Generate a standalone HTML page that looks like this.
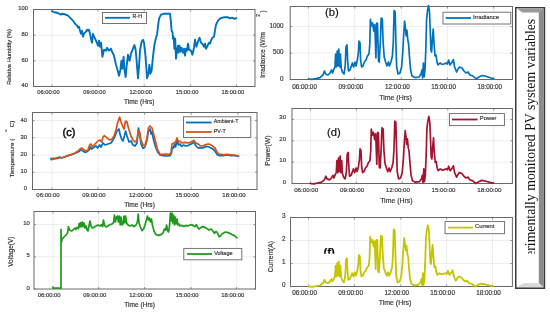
<!DOCTYPE html>
<html><head><meta charset="utf-8"><title>PV system variables</title>
<style>html,body{margin:0;padding:0;background:#fff}svg{display:block}</style>
</head><body>
<svg width="550" height="312" viewBox="0 0 550 312" font-family="Liberation Sans, sans-serif">
<rect width="550" height="312" fill="#fff"/>
<rect x="33.5" y="9.5" width="221.5" height="77.0" fill="#fff"/>
<line x1="52.0" y1="9.5" x2="52.0" y2="86.5" stroke="#e6e6e6" stroke-width="0.7"/>
<line x1="98.0" y1="9.5" x2="98.0" y2="86.5" stroke="#e6e6e6" stroke-width="0.7"/>
<line x1="144.2" y1="9.5" x2="144.2" y2="86.5" stroke="#e6e6e6" stroke-width="0.7"/>
<line x1="190.6" y1="9.5" x2="190.6" y2="86.5" stroke="#e6e6e6" stroke-width="0.7"/>
<line x1="236.4" y1="9.5" x2="236.4" y2="86.5" stroke="#e6e6e6" stroke-width="0.7"/>
<line x1="33.5" y1="35.2" x2="255" y2="35.2" stroke="#e6e6e6" stroke-width="0.7"/>
<line x1="33.5" y1="60.8" x2="255" y2="60.8" stroke="#e6e6e6" stroke-width="0.7"/>
<rect x="33.5" y="9.5" width="221.5" height="77.0" fill="none" stroke="#686868" stroke-width="1"/>
<line x1="52.0" y1="86.5" x2="52.0" y2="84.5" stroke="#686868" stroke-width="0.7"/>
<line x1="52.0" y1="9.5" x2="52.0" y2="11.5" stroke="#686868" stroke-width="0.7"/>
<line x1="98.0" y1="86.5" x2="98.0" y2="84.5" stroke="#686868" stroke-width="0.7"/>
<line x1="98.0" y1="9.5" x2="98.0" y2="11.5" stroke="#686868" stroke-width="0.7"/>
<line x1="144.2" y1="86.5" x2="144.2" y2="84.5" stroke="#686868" stroke-width="0.7"/>
<line x1="144.2" y1="9.5" x2="144.2" y2="11.5" stroke="#686868" stroke-width="0.7"/>
<line x1="190.6" y1="86.5" x2="190.6" y2="84.5" stroke="#686868" stroke-width="0.7"/>
<line x1="190.6" y1="9.5" x2="190.6" y2="11.5" stroke="#686868" stroke-width="0.7"/>
<line x1="236.4" y1="86.5" x2="236.4" y2="84.5" stroke="#686868" stroke-width="0.7"/>
<line x1="236.4" y1="9.5" x2="236.4" y2="11.5" stroke="#686868" stroke-width="0.7"/>
<line x1="33.5" y1="9.5" x2="35.5" y2="9.5" stroke="#686868" stroke-width="0.7"/>
<line x1="255" y1="9.5" x2="253" y2="9.5" stroke="#686868" stroke-width="0.7"/>
<line x1="33.5" y1="35.2" x2="35.5" y2="35.2" stroke="#686868" stroke-width="0.7"/>
<line x1="255" y1="35.2" x2="253" y2="35.2" stroke="#686868" stroke-width="0.7"/>
<line x1="33.5" y1="60.8" x2="35.5" y2="60.8" stroke="#686868" stroke-width="0.7"/>
<line x1="255" y1="60.8" x2="253" y2="60.8" stroke="#686868" stroke-width="0.7"/>
<line x1="33.5" y1="86.5" x2="35.5" y2="86.5" stroke="#686868" stroke-width="0.7"/>
<line x1="255" y1="86.5" x2="253" y2="86.5" stroke="#686868" stroke-width="0.7"/>
<polyline points="52.0,11.2 54.0,12.2 57.0,12.7 59.0,13.7 61.0,14.7 62.0,13.7 65.0,14.3 68.0,15.7 71.0,18.7 73.0,20.7 75.0,23.7 77.0,25.7 78.0,27.7 79.0,26.7 80.0,30.7 81.0,33.7 82.0,30.7 83.0,36.7 84.0,33.7 86.0,31.7 87.0,29.7 88.0,30.7 89.0,29.7 90.0,33.7 91.0,38.7 92.0,42.7 93.0,33.7 94.0,36.7 96.0,40.7 98.0,45.7 99.0,40.7 100.0,46.7 101.0,42.7 102.4,56.7 104.0,49.7 106.0,50.7 107.0,47.7 109.0,50.7 111.0,48.7 112.0,51.7 114.0,55.7 116.0,64.7 118.0,71.7 119.0,75.7 120.4,69.7 121.4,60.7 122.4,68.7 123.6,56.7 124.6,70.7 125.6,77.1 126.6,66.7 128.0,54.7 129.6,60.7 131.0,53.7 133.0,48.7 134.4,45.1 135.6,49.7 136.6,60.7 138.0,78.3 139.0,66.7 140.0,50.7 141.6,41.7 143.0,39.7 144.0,42.7 145.6,56.7 147.0,78.3 148.4,73.7 149.4,64.7 150.4,73.7 151.6,70.7 153.0,56.7 154.4,44.7 156.0,37.7 157.0,34.7 159.0,18.7 161.0,14.7 164.0,13.7 170.0,13.7 171.0,22.7 171.6,30.7 172.6,32.7 173.0,38.7 173.6,36.7 174.4,48.7 175.2,38.7 176.0,58.7 177.0,50.7 178.0,45.7 178.6,52.7 179.6,45.7 180.6,51.7 181.6,47.7 183.0,52.7 184.0,48.7 185.0,55.7 186.0,48.7 187.0,50.7 188.0,43.7 189.0,49.7 191.0,50.7 192.4,54.7 194.0,47.7 195.0,39.7 196.4,46.7 198.0,41.7 199.6,37.7 201.0,42.7 202.4,43.7 204.0,46.7 205.0,43.7 206.0,48.7 207.6,45.7 209.0,42.7 210.0,43.7 211.0,40.7 212.4,37.7 214.0,36.7 215.0,30.7 216.0,24.7 218.0,20.7 220.0,18.7 222.0,17.7 225.0,17.1 228.0,17.3 230.0,18.3 232.0,17.7 234.0,18.7 236.4,18.3" fill="none" stroke="#0072BD" stroke-width="1.9" stroke-linejoin="round" stroke-linecap="round"/>
<rect x="102.5" y="12.5" width="44.0" height="11.0" fill="#fff" stroke="#666" stroke-width="0.9"/>
<line x1="105" y1="17.8" x2="130" y2="17.8" stroke="#0072BD" stroke-width="1.8"/>
<text x="132.5" y="18.3" font-size="5.35" text-anchor="start" fill="#383838" stroke="#383838" stroke-width="0.18" >R-H</text>
<text x="28.0" y="10.4" font-size="5.8" text-anchor="end" fill="#383838" stroke="#383838" stroke-width="0.18" >100</text>
<text x="28.0" y="36.1" font-size="5.8" text-anchor="end" fill="#383838" stroke="#383838" stroke-width="0.18" >80</text>
<text x="28.0" y="61.7" font-size="5.8" text-anchor="end" fill="#383838" stroke="#383838" stroke-width="0.18" >60</text>
<text x="28.0" y="87.4" font-size="5.8" text-anchor="end" fill="#383838" stroke="#383838" stroke-width="0.18" >40</text>
<text x="48.5" y="93.8" font-size="5.8" text-anchor="middle" fill="#383838" stroke="#383838" stroke-width="0.18" >06:00:00</text>
<text x="94.5" y="93.8" font-size="5.8" text-anchor="middle" fill="#383838" stroke="#383838" stroke-width="0.18" >09:00:00</text>
<text x="140.7" y="93.8" font-size="5.8" text-anchor="middle" fill="#383838" stroke="#383838" stroke-width="0.18" >12:00:00</text>
<text x="187.1" y="93.8" font-size="5.8" text-anchor="middle" fill="#383838" stroke="#383838" stroke-width="0.18" >15:00:00</text>
<text x="232.9" y="93.8" font-size="5.8" text-anchor="middle" fill="#383838" stroke="#383838" stroke-width="0.18" >18:00:00</text>
<text x="139.2" y="103.5" font-size="6.5" text-anchor="middle" fill="#383838" stroke="#383838" stroke-width="0.18" >Time (Hrs)</text>
<text transform="translate(11.0,57.0) rotate(-90)" font-size="5.8" text-anchor="middle" fill="#383838" stroke="#383838" stroke-width="0.18">Relative Humidity (%)</text>
<rect x="290.2" y="6.5" width="222.3" height="73.0" fill="#fff"/>
<line x1="308.4" y1="6.5" x2="308.4" y2="79.5" stroke="#e6e6e6" stroke-width="0.7"/>
<line x1="354.7" y1="6.5" x2="354.7" y2="79.5" stroke="#e6e6e6" stroke-width="0.7"/>
<line x1="401.2" y1="6.5" x2="401.2" y2="79.5" stroke="#e6e6e6" stroke-width="0.7"/>
<line x1="447.4" y1="6.5" x2="447.4" y2="79.5" stroke="#e6e6e6" stroke-width="0.7"/>
<line x1="493.6" y1="6.5" x2="493.6" y2="79.5" stroke="#e6e6e6" stroke-width="0.7"/>
<line x1="290.2" y1="26.6" x2="512.5" y2="26.6" stroke="#e6e6e6" stroke-width="0.7"/>
<line x1="290.2" y1="53.1" x2="512.5" y2="53.1" stroke="#e6e6e6" stroke-width="0.7"/>
<rect x="290.2" y="6.5" width="222.3" height="73.0" fill="none" stroke="#686868" stroke-width="1"/>
<line x1="308.4" y1="79.5" x2="308.4" y2="77.5" stroke="#686868" stroke-width="0.7"/>
<line x1="308.4" y1="6.5" x2="308.4" y2="8.5" stroke="#686868" stroke-width="0.7"/>
<line x1="354.7" y1="79.5" x2="354.7" y2="77.5" stroke="#686868" stroke-width="0.7"/>
<line x1="354.7" y1="6.5" x2="354.7" y2="8.5" stroke="#686868" stroke-width="0.7"/>
<line x1="401.2" y1="79.5" x2="401.2" y2="77.5" stroke="#686868" stroke-width="0.7"/>
<line x1="401.2" y1="6.5" x2="401.2" y2="8.5" stroke="#686868" stroke-width="0.7"/>
<line x1="447.4" y1="79.5" x2="447.4" y2="77.5" stroke="#686868" stroke-width="0.7"/>
<line x1="447.4" y1="6.5" x2="447.4" y2="8.5" stroke="#686868" stroke-width="0.7"/>
<line x1="493.6" y1="79.5" x2="493.6" y2="77.5" stroke="#686868" stroke-width="0.7"/>
<line x1="493.6" y1="6.5" x2="493.6" y2="8.5" stroke="#686868" stroke-width="0.7"/>
<line x1="290.2" y1="26.6" x2="292.2" y2="26.6" stroke="#686868" stroke-width="0.7"/>
<line x1="512.5" y1="26.6" x2="510.5" y2="26.6" stroke="#686868" stroke-width="0.7"/>
<line x1="290.2" y1="53.1" x2="292.2" y2="53.1" stroke="#686868" stroke-width="0.7"/>
<line x1="512.5" y1="53.1" x2="510.5" y2="53.1" stroke="#686868" stroke-width="0.7"/>
<line x1="290.2" y1="79.5" x2="292.2" y2="79.5" stroke="#686868" stroke-width="0.7"/>
<line x1="512.5" y1="79.5" x2="510.5" y2="79.5" stroke="#686868" stroke-width="0.7"/>
<polyline points="308.4,79.0 312.0,79.4 316.0,78.6 320.0,77.6 323.0,75.0 324.4,71.0 325.6,74.0 328.0,75.0 330.0,73.0 331.6,70.0 332.6,73.0 334.0,69.0 335.0,67.0 335.6,54.0 336.4,67.0 337.2,51.0 338.0,66.0 338.8,49.0 339.6,67.0 340.4,54.0 341.2,68.0 342.4,72.0 344.0,74.0 345.2,66.0 346.0,47.0 347.0,45.0 347.6,60.0 348.4,71.0 350.0,70.0 351.0,67.0 352.4,63.0 353.6,67.0 355.0,62.0 356.0,66.0 357.4,60.0 358.4,52.0 359.0,41.0 360.0,43.0 360.6,60.0 361.6,67.0 363.0,66.0 364.4,62.0 366.0,60.0 367.4,56.0 369.0,54.0 369.8,44.0 370.4,19.4 371.5,26.0 372.6,23.0 373.8,31.0 374.8,24.5 375.9,58.0 376.7,23.0 377.5,23.5 378.5,61.0 379.3,62.0 380.4,40.0 381.2,18.0 382.3,19.0 383.1,42.0 384.2,57.0 385.6,62.0 387.0,66.0 388.4,62.0 389.4,66.0 391.0,62.0 392.4,56.0 393.3,42.0 394.1,10.5 395.1,11.7 395.9,42.0 396.6,66.0 398.0,74.0 400.0,73.0 401.6,67.0 402.8,52.0 403.6,36.0 404.6,21.0 405.6,30.0 406.2,36.0 406.9,30.0 407.8,40.0 408.6,44.0 409.4,56.0 410.6,70.0 412.0,76.0 415.0,77.6 419.0,77.0 421.0,74.0 422.0,70.0 422.6,78.0 423.4,63.0 424.2,77.0 425.0,70.0 425.8,50.0 426.6,19.4 427.4,11.7 428.5,5.5 429.5,12.0 430.2,30.0 430.9,50.0 431.6,52.0 432.4,39.0 433.2,29.0 434.0,43.0 435.0,56.0 436.0,55.0 437.0,62.0 438.0,65.0 440.0,63.0 442.0,64.4 444.0,64.0 446.0,63.0 447.4,64.0 448.6,60.0 450.0,65.0 451.6,63.0 453.4,59.6 454.6,67.0 456.6,72.0 458.0,69.0 459.4,67.0 462.0,68.0 464.0,71.0 466.0,73.0 468.0,72.0 470.0,75.0 473.0,76.0 476.0,79.0 479.0,77.0 482.0,75.6 485.0,76.0 488.0,77.0 491.0,78.0 493.6,78.6" fill="none" stroke="#0072BD" stroke-width="1.7" stroke-linejoin="round" stroke-linecap="round"/>
<rect x="443" y="12.2" width="67.8" height="11.8" fill="#fff" stroke="#666" stroke-width="0.9"/>
<line x1="445.6" y1="18" x2="471" y2="18" stroke="#0072BD" stroke-width="1.8"/>
<text x="473.0" y="19.1" font-size="5.85" text-anchor="start" fill="#383838" stroke="#383838" stroke-width="0.18" >Irradiance</text>
<text x="283.4" y="27.7" font-size="6.3" text-anchor="end" fill="#383838" stroke="#383838" stroke-width="0.18" >1000</text>
<text x="283.4" y="54.2" font-size="6.3" text-anchor="end" fill="#383838" stroke="#383838" stroke-width="0.18" >500</text>
<text x="283.4" y="80.6" font-size="6.3" text-anchor="end" fill="#383838" stroke="#383838" stroke-width="0.18" >0</text>
<text x="304.6" y="89.3" font-size="6.35" text-anchor="middle" fill="#383838" stroke="#383838" stroke-width="0.18" >06:00:00</text>
<text x="350.9" y="89.3" font-size="6.35" text-anchor="middle" fill="#383838" stroke="#383838" stroke-width="0.18" >09:00:00</text>
<text x="397.4" y="89.3" font-size="6.35" text-anchor="middle" fill="#383838" stroke="#383838" stroke-width="0.18" >12:00:00</text>
<text x="443.6" y="89.3" font-size="6.35" text-anchor="middle" fill="#383838" stroke="#383838" stroke-width="0.18" >15:00:00</text>
<text x="489.8" y="89.3" font-size="6.35" text-anchor="middle" fill="#383838" stroke="#383838" stroke-width="0.18" >18:00:00</text>
<text x="395.5" y="99.5" font-size="6.95" text-anchor="middle" fill="#383838" stroke="#383838" stroke-width="0.18" >Time (Hrs)</text>
<text transform="translate(264.6,55.0) rotate(-90)" font-size="6.4" text-anchor="middle" fill="#383838" stroke="#383838" stroke-width="0.18">Irradiance (W/m</text>
<text transform="translate(260.2,15.3) rotate(-90)" font-size="5" text-anchor="middle" fill="#383838" stroke="#383838" stroke-width="0.18">2</text>
<text transform="translate(264.8,11.5) rotate(-90)" font-size="6.6" text-anchor="middle" fill="#383838" stroke="#383838" stroke-width="0.18">)</text>
<text x="325.0" y="16.3" font-size="11.3" text-anchor="start" fill="#111" stroke="#111" stroke-width="0.18" >(b)</text>
<rect x="32.5" y="112.5" width="224.5" height="77.0" fill="#fff"/>
<line x1="52.0" y1="112.5" x2="52.0" y2="189.5" stroke="#e6e6e6" stroke-width="0.7"/>
<line x1="98.0" y1="112.5" x2="98.0" y2="189.5" stroke="#e6e6e6" stroke-width="0.7"/>
<line x1="144.6" y1="112.5" x2="144.6" y2="189.5" stroke="#e6e6e6" stroke-width="0.7"/>
<line x1="191.2" y1="112.5" x2="191.2" y2="189.5" stroke="#e6e6e6" stroke-width="0.7"/>
<line x1="238.0" y1="112.5" x2="238.0" y2="189.5" stroke="#e6e6e6" stroke-width="0.7"/>
<line x1="32.5" y1="120.6" x2="257" y2="120.6" stroke="#e6e6e6" stroke-width="0.7"/>
<line x1="32.5" y1="137.8" x2="257" y2="137.8" stroke="#e6e6e6" stroke-width="0.7"/>
<line x1="32.5" y1="155.1" x2="257" y2="155.1" stroke="#e6e6e6" stroke-width="0.7"/>
<line x1="32.5" y1="172.3" x2="257" y2="172.3" stroke="#e6e6e6" stroke-width="0.7"/>
<rect x="32.5" y="112.5" width="224.5" height="77.0" fill="none" stroke="#686868" stroke-width="1"/>
<line x1="52.0" y1="189.5" x2="52.0" y2="187.5" stroke="#686868" stroke-width="0.7"/>
<line x1="52.0" y1="112.5" x2="52.0" y2="114.5" stroke="#686868" stroke-width="0.7"/>
<line x1="98.0" y1="189.5" x2="98.0" y2="187.5" stroke="#686868" stroke-width="0.7"/>
<line x1="98.0" y1="112.5" x2="98.0" y2="114.5" stroke="#686868" stroke-width="0.7"/>
<line x1="144.6" y1="189.5" x2="144.6" y2="187.5" stroke="#686868" stroke-width="0.7"/>
<line x1="144.6" y1="112.5" x2="144.6" y2="114.5" stroke="#686868" stroke-width="0.7"/>
<line x1="191.2" y1="189.5" x2="191.2" y2="187.5" stroke="#686868" stroke-width="0.7"/>
<line x1="191.2" y1="112.5" x2="191.2" y2="114.5" stroke="#686868" stroke-width="0.7"/>
<line x1="238.0" y1="189.5" x2="238.0" y2="187.5" stroke="#686868" stroke-width="0.7"/>
<line x1="238.0" y1="112.5" x2="238.0" y2="114.5" stroke="#686868" stroke-width="0.7"/>
<line x1="32.5" y1="120.6" x2="34.5" y2="120.6" stroke="#686868" stroke-width="0.7"/>
<line x1="257" y1="120.6" x2="255" y2="120.6" stroke="#686868" stroke-width="0.7"/>
<line x1="32.5" y1="137.8" x2="34.5" y2="137.8" stroke="#686868" stroke-width="0.7"/>
<line x1="257" y1="137.8" x2="255" y2="137.8" stroke="#686868" stroke-width="0.7"/>
<line x1="32.5" y1="155.1" x2="34.5" y2="155.1" stroke="#686868" stroke-width="0.7"/>
<line x1="257" y1="155.1" x2="255" y2="155.1" stroke="#686868" stroke-width="0.7"/>
<line x1="32.5" y1="172.3" x2="34.5" y2="172.3" stroke="#686868" stroke-width="0.7"/>
<line x1="257" y1="172.3" x2="255" y2="172.3" stroke="#686868" stroke-width="0.7"/>
<line x1="32.5" y1="189.5" x2="34.5" y2="189.5" stroke="#686868" stroke-width="0.7"/>
<line x1="257" y1="189.5" x2="255" y2="189.5" stroke="#686868" stroke-width="0.7"/>
<polyline points="51.0,158.6 56.0,158.0 60.0,157.2 62.0,158.0 68.0,155.6 72.0,154.4 76.0,153.0 79.0,151.6 81.0,149.6 83.0,151.0 85.0,152.4 87.0,151.6 89.0,150.0 90.4,147.0 91.6,149.0 93.6,147.6 96.0,146.0 97.6,148.0 99.6,145.0 101.0,147.0 103.0,143.0 105.0,145.0 108.0,144.0 111.0,143.0 113.0,140.0 115.0,136.0 117.0,131.0 119.0,129.0 120.0,134.0 121.6,139.0 123.0,141.0 124.4,136.0 125.6,131.0 127.0,136.0 129.0,142.0 131.0,141.0 133.0,145.0 135.0,146.0 137.0,143.0 138.4,128.0 139.6,134.0 141.0,144.0 143.0,148.4 145.0,147.0 147.0,140.0 148.4,131.0 150.0,129.0 151.0,134.0 152.0,132.0 153.6,140.0 155.6,147.0 157.6,152.0 160.0,155.0 163.0,155.6 167.0,156.0 170.0,155.6 171.4,153.0 172.4,147.0 173.6,148.0 174.6,144.0 175.6,147.0 177.0,140.0 178.4,145.0 180.0,144.0 181.6,146.4 183.6,145.0 185.6,146.0 188.0,145.6 190.0,144.4 192.0,143.6 194.0,142.0 196.0,146.0 198.0,148.0 200.0,147.6 203.0,148.0 206.0,146.4 209.0,147.0 212.0,148.4 215.0,151.0 217.0,154.4 219.0,155.6 223.0,155.6 227.0,155.0 231.0,155.6 235.0,155.6 238.4,156.4" fill="none" stroke="#0072BD" stroke-width="1.7" stroke-linejoin="round" stroke-linecap="round"/>
<polyline points="51.0,159.6 56.0,158.6 60.0,158.0 64.0,157.0 68.0,155.6 72.0,154.4 75.0,153.0 78.0,151.0 80.0,149.0 82.0,148.0 84.0,150.0 86.0,151.0 88.0,150.0 89.6,145.0 91.0,144.0 92.4,147.0 95.0,144.0 98.0,141.0 100.0,140.0 101.6,142.0 103.0,137.0 104.4,135.6 107.0,138.0 110.0,140.0 112.0,139.0 114.0,136.0 116.0,130.0 117.6,123.0 119.6,117.0 121.0,122.0 123.0,127.0 124.0,129.0 125.6,121.0 127.0,122.0 128.4,128.0 131.0,136.0 133.0,140.0 135.0,142.0 137.0,140.0 138.4,130.0 139.6,132.0 141.0,140.0 143.0,145.0 145.0,146.0 147.0,138.0 148.4,128.0 150.0,126.0 152.0,128.0 153.6,134.0 155.6,142.0 157.6,150.0 160.0,154.0 163.0,154.4 166.0,154.0 169.0,154.4 171.0,153.0 172.0,144.0 174.0,143.0 175.6,142.0 177.0,138.0 178.4,142.0 180.0,141.0 182.0,143.0 185.0,142.4 188.0,143.0 191.0,142.0 193.6,140.4 196.0,143.0 198.0,144.0 200.0,145.6 203.0,146.0 206.0,144.4 209.0,144.0 212.0,145.6 215.0,148.0 217.0,152.0 219.0,154.0 223.0,154.8 227.0,154.4 231.0,154.8 235.0,155.2 238.4,156.0" fill="none" stroke="#D95319" stroke-width="1.7" stroke-linejoin="round" stroke-linecap="round"/>
<rect x="183.5" y="116.8" width="67.3" height="20.7" fill="#fff" stroke="#666" stroke-width="0.9"/>
<line x1="186" y1="122.5" x2="211.7" y2="122.5" stroke="#0072BD" stroke-width="1.8"/>
<text x="213.8" y="123.0" font-size="5.35" text-anchor="start" fill="#383838" stroke="#383838" stroke-width="0.18" >Ambient-T</text>
<line x1="186" y1="132" x2="211.7" y2="132" stroke="#D95319" stroke-width="1.8"/>
<text x="213.8" y="132.5" font-size="5.35" text-anchor="start" fill="#383838" stroke="#383838" stroke-width="0.18" >PV-T</text>
<text x="27.0" y="121.5" font-size="5.8" text-anchor="end" fill="#383838" stroke="#383838" stroke-width="0.18" >40</text>
<text x="27.0" y="138.7" font-size="5.8" text-anchor="end" fill="#383838" stroke="#383838" stroke-width="0.18" >30</text>
<text x="27.0" y="156.0" font-size="5.8" text-anchor="end" fill="#383838" stroke="#383838" stroke-width="0.18" >20</text>
<text x="27.0" y="173.2" font-size="5.8" text-anchor="end" fill="#383838" stroke="#383838" stroke-width="0.18" >10</text>
<text x="27.0" y="190.4" font-size="5.8" text-anchor="end" fill="#383838" stroke="#383838" stroke-width="0.18" >0</text>
<text x="48.0" y="197.1" font-size="6.0" text-anchor="middle" fill="#383838" stroke="#383838" stroke-width="0.18" >06:00:00</text>
<text x="94.0" y="197.1" font-size="6.0" text-anchor="middle" fill="#383838" stroke="#383838" stroke-width="0.18" >09:00:00</text>
<text x="140.6" y="197.1" font-size="6.0" text-anchor="middle" fill="#383838" stroke="#383838" stroke-width="0.18" >12:00:00</text>
<text x="187.2" y="197.1" font-size="6.0" text-anchor="middle" fill="#383838" stroke="#383838" stroke-width="0.18" >15:00:00</text>
<text x="234.0" y="197.1" font-size="6.0" text-anchor="middle" fill="#383838" stroke="#383838" stroke-width="0.18" >18:00:00</text>
<text x="139.5" y="206.9" font-size="6.55" text-anchor="middle" fill="#383838" stroke="#383838" stroke-width="0.18" >Time (Hrs)</text>
<text transform="translate(13.6,177.3) rotate(-90)" font-size="6.2" text-anchor="start" fill="#383838" stroke="#383838" stroke-width="0.18">Temperature (</text>
<text transform="translate(8.9,130.5) rotate(-90)" font-size="6.2" text-anchor="middle" fill="#383838" stroke="#383838" stroke-width="0.18">°</text>
<text transform="translate(13.6,124.0) rotate(-90)" font-size="6.2" text-anchor="middle" fill="#383838" stroke="#383838" stroke-width="0.18">C)</text>
<text x="62.6" y="135.6" font-size="11" text-anchor="start" fill="#111" stroke="#111" stroke-width="0.18" style="stroke-width:0.5">(c)</text>
<rect x="292" y="108.5" width="220.4" height="75.0" fill="#fff"/>
<line x1="310.5" y1="108.5" x2="310.5" y2="183.5" stroke="#e6e6e6" stroke-width="0.7"/>
<line x1="356.4" y1="108.5" x2="356.4" y2="183.5" stroke="#e6e6e6" stroke-width="0.7"/>
<line x1="402.2" y1="108.5" x2="402.2" y2="183.5" stroke="#e6e6e6" stroke-width="0.7"/>
<line x1="447.8" y1="108.5" x2="447.8" y2="183.5" stroke="#e6e6e6" stroke-width="0.7"/>
<line x1="493.7" y1="108.5" x2="493.7" y2="183.5" stroke="#e6e6e6" stroke-width="0.7"/>
<line x1="292" y1="119.4" x2="512.4" y2="119.4" stroke="#e6e6e6" stroke-width="0.7"/>
<line x1="292" y1="140.8" x2="512.4" y2="140.8" stroke="#e6e6e6" stroke-width="0.7"/>
<line x1="292" y1="162.1" x2="512.4" y2="162.1" stroke="#e6e6e6" stroke-width="0.7"/>
<rect x="292" y="108.5" width="220.4" height="75.0" fill="none" stroke="#686868" stroke-width="1"/>
<line x1="310.5" y1="183.5" x2="310.5" y2="181.5" stroke="#686868" stroke-width="0.7"/>
<line x1="310.5" y1="108.5" x2="310.5" y2="110.5" stroke="#686868" stroke-width="0.7"/>
<line x1="356.4" y1="183.5" x2="356.4" y2="181.5" stroke="#686868" stroke-width="0.7"/>
<line x1="356.4" y1="108.5" x2="356.4" y2="110.5" stroke="#686868" stroke-width="0.7"/>
<line x1="402.2" y1="183.5" x2="402.2" y2="181.5" stroke="#686868" stroke-width="0.7"/>
<line x1="402.2" y1="108.5" x2="402.2" y2="110.5" stroke="#686868" stroke-width="0.7"/>
<line x1="447.8" y1="183.5" x2="447.8" y2="181.5" stroke="#686868" stroke-width="0.7"/>
<line x1="447.8" y1="108.5" x2="447.8" y2="110.5" stroke="#686868" stroke-width="0.7"/>
<line x1="493.7" y1="183.5" x2="493.7" y2="181.5" stroke="#686868" stroke-width="0.7"/>
<line x1="493.7" y1="108.5" x2="493.7" y2="110.5" stroke="#686868" stroke-width="0.7"/>
<line x1="292" y1="119.4" x2="294" y2="119.4" stroke="#686868" stroke-width="0.7"/>
<line x1="512.4" y1="119.4" x2="510.4" y2="119.4" stroke="#686868" stroke-width="0.7"/>
<line x1="292" y1="140.8" x2="294" y2="140.8" stroke="#686868" stroke-width="0.7"/>
<line x1="512.4" y1="140.8" x2="510.4" y2="140.8" stroke="#686868" stroke-width="0.7"/>
<line x1="292" y1="162.1" x2="294" y2="162.1" stroke="#686868" stroke-width="0.7"/>
<line x1="512.4" y1="162.1" x2="510.4" y2="162.1" stroke="#686868" stroke-width="0.7"/>
<line x1="292" y1="183.5" x2="294" y2="183.5" stroke="#686868" stroke-width="0.7"/>
<line x1="512.4" y1="183.5" x2="510.4" y2="183.5" stroke="#686868" stroke-width="0.7"/>
<polyline points="310.0,183.5 313.6,183.9 317.5,183.1 321.5,182.2 324.4,179.9 325.8,176.2 327.0,178.9 329.4,179.9 331.4,178.0 332.9,175.3 333.9,178.0 335.3,174.4 336.3,172.6 336.9,160.7 337.7,172.6 338.5,158.0 339.3,171.6 340.1,156.1 340.9,172.6 341.7,160.7 342.4,173.5 343.6,177.1 345.2,178.9 346.4,171.6 347.2,154.3 348.2,152.5 348.8,166.2 349.6,176.2 351.2,175.3 352.1,172.6 353.5,168.9 354.7,172.6 356.1,168.0 357.1,171.6 358.5,166.2 359.5,158.9 360.1,148.8 361.0,150.7 361.6,166.2 362.6,172.6 364.0,171.6 365.4,168.0 367.0,166.2 368.4,162.5 369.9,160.7 370.7,151.6 371.3,129.1 372.4,135.1 373.5,132.4 374.7,139.7 375.7,133.8 376.8,164.3 377.6,132.4 378.4,132.9 379.3,167.1 380.1,168.0 381.2,147.9 382.0,127.8 383.1,128.8 383.9,149.7 385.0,163.4 386.4,168.0 387.8,171.6 389.1,168.0 390.1,171.6 391.7,168.0 393.1,162.5 394.0,149.7 394.8,121.0 395.8,122.1 396.6,149.7 397.2,171.6 398.6,178.9 400.6,178.0 402.2,172.6 403.4,158.9 404.2,144.3 405.2,130.6 406.2,138.8 406.7,144.3 407.4,138.8 408.3,147.9 409.1,151.6 409.9,162.5 411.1,175.3 412.5,180.8 415.4,182.2 419.4,181.7 421.4,178.9 422.4,175.3 423.0,182.6 423.8,168.9 424.5,181.7 425.3,175.3 426.1,157.0 426.9,129.1 427.7,122.1 428.8,116.4 429.8,122.4 430.5,138.8 431.2,157.0 431.9,158.9 432.7,147.0 433.5,137.9 434.2,150.7 435.2,162.5 436.2,161.6 437.2,168.0 438.2,170.7 440.2,168.9 442.2,170.2 444.1,169.8 446.1,168.9 447.5,169.8 448.7,166.2 450.1,170.7 451.7,168.9 453.4,165.8 454.6,172.6 456.6,177.1 458.0,174.4 459.4,172.6 461.9,173.5 463.9,176.2 465.9,178.0 467.9,177.1 469.9,179.9 472.8,180.8 475.8,183.5 478.8,181.7 481.7,180.4 484.7,180.8 487.7,181.7 490.6,182.6 493.2,183.1" fill="none" stroke="#A2142F" stroke-width="1.7" stroke-linejoin="round" stroke-linecap="round"/>
<rect x="449.4" y="113.6" width="55.0" height="12.0" fill="#fff" stroke="#666" stroke-width="0.9"/>
<line x1="452" y1="119.5" x2="477.6" y2="119.5" stroke="#A2142F" stroke-width="1.8"/>
<text x="479.8" y="119.7" font-size="5.85" text-anchor="start" fill="#383838" stroke="#383838" stroke-width="0.18" >Power</text>
<text x="286.0" y="119.4" font-size="6.0" text-anchor="end" fill="#383838" stroke="#383838" stroke-width="0.18" >30</text>
<text x="286.0" y="140.8" font-size="6.0" text-anchor="end" fill="#383838" stroke="#383838" stroke-width="0.18" >20</text>
<text x="286.0" y="162.1" font-size="6.0" text-anchor="end" fill="#383838" stroke="#383838" stroke-width="0.18" >10</text>
<text x="286.0" y="183.5" font-size="6.0" text-anchor="end" fill="#383838" stroke="#383838" stroke-width="0.18" >0</text>
<text x="306.2" y="192.0" font-size="6.2" text-anchor="middle" fill="#383838" stroke="#383838" stroke-width="0.18" >06:00:00</text>
<text x="352.1" y="192.0" font-size="6.2" text-anchor="middle" fill="#383838" stroke="#383838" stroke-width="0.18" >09:00:00</text>
<text x="397.9" y="192.0" font-size="6.2" text-anchor="middle" fill="#383838" stroke="#383838" stroke-width="0.18" >12:00:00</text>
<text x="443.5" y="192.0" font-size="6.2" text-anchor="middle" fill="#383838" stroke="#383838" stroke-width="0.18" >15:00:00</text>
<text x="489.4" y="192.0" font-size="6.2" text-anchor="middle" fill="#383838" stroke="#383838" stroke-width="0.18" >18:00:00</text>
<text x="396.3" y="203.2" font-size="6.9" text-anchor="middle" fill="#383838" stroke="#383838" stroke-width="0.18" >Time (Hrs)</text>
<text transform="translate(270.2,150.6) rotate(-90)" font-size="6.8" text-anchor="middle" fill="#383838" stroke="#383838" stroke-width="0.18">Power(W)</text>
<text x="327.0" y="135.8" font-size="11.2" text-anchor="start" fill="#111" stroke="#111" stroke-width="0.18" >(d)</text>
<rect x="34" y="211.5" width="221.5" height="77.5" fill="#fff"/>
<line x1="53.0" y1="211.5" x2="53.0" y2="289" stroke="#e6e6e6" stroke-width="0.7"/>
<line x1="98.6" y1="211.5" x2="98.6" y2="289" stroke="#e6e6e6" stroke-width="0.7"/>
<line x1="144.6" y1="211.5" x2="144.6" y2="289" stroke="#e6e6e6" stroke-width="0.7"/>
<line x1="191.0" y1="211.5" x2="191.0" y2="289" stroke="#e6e6e6" stroke-width="0.7"/>
<line x1="236.6" y1="211.5" x2="236.6" y2="289" stroke="#e6e6e6" stroke-width="0.7"/>
<line x1="34" y1="224.6" x2="255.5" y2="224.6" stroke="#e6e6e6" stroke-width="0.7"/>
<line x1="34" y1="256.8" x2="255.5" y2="256.8" stroke="#e6e6e6" stroke-width="0.7"/>
<rect x="34" y="211.5" width="221.5" height="77.5" fill="none" stroke="#686868" stroke-width="1"/>
<line x1="53.0" y1="289" x2="53.0" y2="287" stroke="#686868" stroke-width="0.7"/>
<line x1="53.0" y1="211.5" x2="53.0" y2="213.5" stroke="#686868" stroke-width="0.7"/>
<line x1="98.6" y1="289" x2="98.6" y2="287" stroke="#686868" stroke-width="0.7"/>
<line x1="98.6" y1="211.5" x2="98.6" y2="213.5" stroke="#686868" stroke-width="0.7"/>
<line x1="144.6" y1="289" x2="144.6" y2="287" stroke="#686868" stroke-width="0.7"/>
<line x1="144.6" y1="211.5" x2="144.6" y2="213.5" stroke="#686868" stroke-width="0.7"/>
<line x1="191.0" y1="289" x2="191.0" y2="287" stroke="#686868" stroke-width="0.7"/>
<line x1="191.0" y1="211.5" x2="191.0" y2="213.5" stroke="#686868" stroke-width="0.7"/>
<line x1="236.6" y1="289" x2="236.6" y2="287" stroke="#686868" stroke-width="0.7"/>
<line x1="236.6" y1="211.5" x2="236.6" y2="213.5" stroke="#686868" stroke-width="0.7"/>
<line x1="34" y1="224.6" x2="36" y2="224.6" stroke="#686868" stroke-width="0.7"/>
<line x1="255.5" y1="224.6" x2="253.5" y2="224.6" stroke="#686868" stroke-width="0.7"/>
<line x1="34" y1="256.8" x2="36" y2="256.8" stroke="#686868" stroke-width="0.7"/>
<line x1="255.5" y1="256.8" x2="253.5" y2="256.8" stroke="#686868" stroke-width="0.7"/>
<line x1="34" y1="289.0" x2="36" y2="289.0" stroke="#686868" stroke-width="0.7"/>
<line x1="255.5" y1="289.0" x2="253.5" y2="289.0" stroke="#686868" stroke-width="0.7"/>
<polyline points="53.0,287.0 53.4,288.2 61.0,288.2 61.0,229.4 61.4,242.0 62.4,239.0 64.0,237.0 66.0,235.0 67.6,233.0 68.4,226.6 69.6,230.0 71.6,231.0 73.6,229.4 75.0,228.0 76.0,229.4 77.0,227.4 78.4,228.6 79.2,223.4 80.0,227.0 80.8,222.6 81.6,226.6 82.4,222.0 83.2,226.6 84.0,223.0 85.0,228.0 86.0,226.0 87.0,230.0 88.0,231.0 89.0,226.0 90.0,221.0 91.0,226.0 92.4,228.0 94.0,227.4 96.0,226.0 98.0,225.0 100.0,226.0 101.6,224.6 102.6,226.6 103.4,220.0 104.4,225.0 106.0,227.0 108.0,226.0 110.0,224.6 112.0,224.0 113.6,222.6 114.4,215.0 115.4,222.0 116.4,217.0 117.4,216.0 118.4,222.0 119.4,216.0 120.2,225.0 121.0,217.0 122.0,225.0 123.0,224.0 124.0,216.0 124.8,223.0 125.6,216.0 126.6,223.0 128.0,225.0 130.0,226.0 132.0,225.0 134.0,226.6 136.0,225.0 137.4,222.0 138.2,214.0 139.0,223.0 140.4,227.0 142.0,230.6 143.6,229.0 145.0,225.0 146.4,220.0 147.4,216.0 148.4,220.0 149.4,218.0 150.4,222.0 151.4,219.0 152.4,225.0 154.0,231.0 156.0,234.6 159.0,235.4 161.0,234.6 163.0,233.0 164.4,229.0 165.6,230.0 166.6,225.0 167.6,231.0 168.6,232.0 169.6,225.0 170.4,213.0 171.4,221.0 172.0,213.0 172.8,223.0 173.6,215.0 174.4,225.0 175.2,217.0 176.0,224.0 177.0,219.0 178.0,225.0 179.0,224.0 180.0,226.0 182.0,225.4 184.0,226.6 186.0,225.4 188.0,226.0 190.0,225.0 192.0,224.6 193.6,226.0 195.0,226.6 196.4,224.6 197.6,227.4 199.0,229.0 201.0,227.4 203.0,226.6 205.0,227.4 207.0,228.6 209.0,230.0 211.0,229.0 213.0,231.0 214.4,233.4 216.0,231.4 217.6,233.0 219.0,236.6 220.4,236.0 222.0,234.0 224.0,232.6 226.0,232.0 228.0,232.6 230.0,233.4 232.0,234.6 234.0,235.4 236.0,237.0 237.0,238.0" fill="none" stroke="#1f9a1f" stroke-width="1.7" stroke-linejoin="round" stroke-linecap="round"/>
<rect x="183.8" y="248.4" width="58.0" height="11.4" fill="#fff" stroke="#666" stroke-width="0.9"/>
<line x1="187" y1="254" x2="212" y2="254" stroke="#1f9a1f" stroke-width="1.8"/>
<text x="214.2" y="254.9" font-size="5.5" text-anchor="start" fill="#383838" stroke="#383838" stroke-width="0.18" >Voltage</text>
<text x="29.8" y="225.2" font-size="5.9" text-anchor="end" fill="#383838" stroke="#383838" stroke-width="0.18" >10</text>
<text x="29.8" y="257.4" font-size="5.9" text-anchor="end" fill="#383838" stroke="#383838" stroke-width="0.18" >5</text>
<text x="29.8" y="289.6" font-size="5.9" text-anchor="end" fill="#383838" stroke="#383838" stroke-width="0.18" >0</text>
<text x="49.2" y="296.7" font-size="5.9" text-anchor="middle" fill="#383838" stroke="#383838" stroke-width="0.18" >06:00:00</text>
<text x="94.8" y="296.7" font-size="5.9" text-anchor="middle" fill="#383838" stroke="#383838" stroke-width="0.18" >09:00:00</text>
<text x="140.8" y="296.7" font-size="5.9" text-anchor="middle" fill="#383838" stroke="#383838" stroke-width="0.18" >12:00:00</text>
<text x="187.2" y="296.7" font-size="5.9" text-anchor="middle" fill="#383838" stroke="#383838" stroke-width="0.18" >15:00:00</text>
<text x="232.8" y="296.7" font-size="5.9" text-anchor="middle" fill="#383838" stroke="#383838" stroke-width="0.18" >18:00:00</text>
<text x="139.7" y="307.0" font-size="6.55" text-anchor="middle" fill="#383838" stroke="#383838" stroke-width="0.18" >Time (Hrs)</text>
<text transform="translate(13.4,251.7) rotate(-90)" font-size="6.5" text-anchor="middle" fill="#383838" stroke="#383838" stroke-width="0.18">Voltage(V)</text>
<rect x="290.5" y="217.5" width="221.9" height="69.0" fill="#fff"/>
<line x1="308.6" y1="217.5" x2="308.6" y2="286.5" stroke="#e6e6e6" stroke-width="0.7"/>
<line x1="354.6" y1="217.5" x2="354.6" y2="286.5" stroke="#e6e6e6" stroke-width="0.7"/>
<line x1="400.8" y1="217.5" x2="400.8" y2="286.5" stroke="#e6e6e6" stroke-width="0.7"/>
<line x1="446.6" y1="217.5" x2="446.6" y2="286.5" stroke="#e6e6e6" stroke-width="0.7"/>
<line x1="492.5" y1="217.5" x2="492.5" y2="286.5" stroke="#e6e6e6" stroke-width="0.7"/>
<line x1="290.5" y1="240.5" x2="512.4" y2="240.5" stroke="#e6e6e6" stroke-width="0.7"/>
<line x1="290.5" y1="263.5" x2="512.4" y2="263.5" stroke="#e6e6e6" stroke-width="0.7"/>
<rect x="290.5" y="217.5" width="221.9" height="69.0" fill="none" stroke="#686868" stroke-width="1"/>
<line x1="308.6" y1="286.5" x2="308.6" y2="284.5" stroke="#686868" stroke-width="0.7"/>
<line x1="308.6" y1="217.5" x2="308.6" y2="219.5" stroke="#686868" stroke-width="0.7"/>
<line x1="354.6" y1="286.5" x2="354.6" y2="284.5" stroke="#686868" stroke-width="0.7"/>
<line x1="354.6" y1="217.5" x2="354.6" y2="219.5" stroke="#686868" stroke-width="0.7"/>
<line x1="400.8" y1="286.5" x2="400.8" y2="284.5" stroke="#686868" stroke-width="0.7"/>
<line x1="400.8" y1="217.5" x2="400.8" y2="219.5" stroke="#686868" stroke-width="0.7"/>
<line x1="446.6" y1="286.5" x2="446.6" y2="284.5" stroke="#686868" stroke-width="0.7"/>
<line x1="446.6" y1="217.5" x2="446.6" y2="219.5" stroke="#686868" stroke-width="0.7"/>
<line x1="492.5" y1="286.5" x2="492.5" y2="284.5" stroke="#686868" stroke-width="0.7"/>
<line x1="492.5" y1="217.5" x2="492.5" y2="219.5" stroke="#686868" stroke-width="0.7"/>
<line x1="290.5" y1="217.5" x2="292.5" y2="217.5" stroke="#686868" stroke-width="0.7"/>
<line x1="512.4" y1="217.5" x2="510.4" y2="217.5" stroke="#686868" stroke-width="0.7"/>
<line x1="290.5" y1="240.5" x2="292.5" y2="240.5" stroke="#686868" stroke-width="0.7"/>
<line x1="512.4" y1="240.5" x2="510.4" y2="240.5" stroke="#686868" stroke-width="0.7"/>
<line x1="290.5" y1="263.5" x2="292.5" y2="263.5" stroke="#686868" stroke-width="0.7"/>
<line x1="512.4" y1="263.5" x2="510.4" y2="263.5" stroke="#686868" stroke-width="0.7"/>
<line x1="290.5" y1="286.5" x2="292.5" y2="286.5" stroke="#686868" stroke-width="0.7"/>
<line x1="512.4" y1="286.5" x2="510.4" y2="286.5" stroke="#686868" stroke-width="0.7"/>
<polyline points="308.6,286.5 312.2,286.8 316.2,286.2 320.1,285.3 323.1,283.2 324.5,279.8 325.7,282.3 328.1,283.2 330.1,281.5 331.6,279.0 332.6,281.5 334.0,278.2 335.0,276.5 335.6,265.7 336.4,276.5 337.2,263.2 338.0,275.7 338.8,261.5 339.6,276.5 340.4,265.7 341.2,277.3 342.4,280.7 344.0,282.3 345.2,275.7 346.0,259.8 346.9,258.2 347.5,270.7 348.3,279.8 349.9,279.0 350.9,276.5 352.3,273.2 353.5,276.5 354.9,272.3 355.9,275.7 357.3,270.7 358.3,264.0 358.9,254.9 359.9,256.5 360.5,270.7 361.5,276.5 362.8,275.7 364.2,272.3 365.8,270.7 367.2,267.3 368.8,265.7 369.6,257.3 370.2,236.9 371.3,242.4 372.4,239.9 373.6,246.5 374.6,241.1 375.7,269.0 376.5,239.9 377.3,240.3 378.2,271.5 379.0,272.3 380.1,254.0 380.9,235.7 382.0,236.5 382.8,255.7 383.9,268.2 385.3,272.3 386.7,275.7 388.1,272.3 389.1,275.7 390.7,272.3 392.1,267.3 392.9,255.7 393.7,229.4 394.7,230.4 395.5,255.7 396.2,275.7 397.6,282.3 399.6,281.5 401.2,276.5 402.4,264.0 403.2,250.7 404.2,238.2 405.2,245.7 405.8,250.7 406.5,245.7 407.4,254.0 408.2,257.3 408.9,267.3 410.1,279.0 411.5,284.0 414.5,285.3 418.5,284.8 420.5,282.3 421.5,279.0 422.1,285.7 422.9,273.2 423.6,284.8 424.4,279.0 425.2,262.3 426.0,236.9 426.8,230.4 427.9,225.3 428.9,230.7 429.6,245.7 430.3,262.3 431.0,264.0 431.8,253.2 432.6,244.9 433.4,256.5 434.4,267.3 435.4,266.5 436.4,272.3 437.4,274.8 439.3,273.2 441.3,274.3 443.3,274.0 445.3,273.2 446.7,274.0 447.9,270.7 449.3,274.8 450.9,273.2 452.7,270.3 453.9,276.5 455.8,280.7 457.2,278.2 458.6,276.5 461.2,277.3 463.2,279.8 465.2,281.5 467.2,280.7 469.2,283.2 472.1,284.0 475.1,286.5 478.1,284.8 481.1,283.7 484.1,284.0 487.0,284.8 490.0,285.7 492.6,286.2" fill="none" stroke="#C4C400" stroke-width="1.8" stroke-linejoin="round" stroke-linecap="round"/>
<rect x="445" y="221.6" width="59.6" height="12.1" fill="#fff" stroke="#666" stroke-width="0.9"/>
<line x1="448" y1="227.6" x2="473" y2="227.6" stroke="#C4C400" stroke-width="1.8"/>
<text x="475.0" y="228.1" font-size="5.85" text-anchor="start" fill="#383838" stroke="#383838" stroke-width="0.18" >Current</text>
<text x="285.5" y="218.3" font-size="6.3" text-anchor="end" fill="#383838" stroke="#383838" stroke-width="0.18" >3</text>
<text x="285.5" y="241.3" font-size="6.3" text-anchor="end" fill="#383838" stroke="#383838" stroke-width="0.18" >2</text>
<text x="285.5" y="264.3" font-size="6.3" text-anchor="end" fill="#383838" stroke="#383838" stroke-width="0.18" >1</text>
<text x="285.5" y="287.3" font-size="6.3" text-anchor="end" fill="#383838" stroke="#383838" stroke-width="0.18" >0</text>
<text x="304.6" y="294.8" font-size="6.35" text-anchor="middle" fill="#383838" stroke="#383838" stroke-width="0.18" >06:00:00</text>
<text x="350.6" y="294.8" font-size="6.35" text-anchor="middle" fill="#383838" stroke="#383838" stroke-width="0.18" >09:00:00</text>
<text x="396.8" y="294.8" font-size="6.35" text-anchor="middle" fill="#383838" stroke="#383838" stroke-width="0.18" >12:00:00</text>
<text x="442.6" y="294.8" font-size="6.35" text-anchor="middle" fill="#383838" stroke="#383838" stroke-width="0.18" >15:00:00</text>
<text x="488.5" y="294.8" font-size="6.35" text-anchor="middle" fill="#383838" stroke="#383838" stroke-width="0.18" >18:00:00</text>
<text x="395.0" y="305.4" font-size="6.95" text-anchor="middle" fill="#383838" stroke="#383838" stroke-width="0.18" >Time (Hrs)</text>
<text transform="translate(273.0,256.7) rotate(-90)" font-size="6.7" text-anchor="middle" fill="#383838" stroke="#383838" stroke-width="0.18">Current(A)</text>
<clipPath id="cf"><rect x="320" y="240" width="20" height="13.8"/></clipPath>
<g clip-path="url(#cf)">
<text x="323.4" y="256.4" font-size="11.5" text-anchor="start" fill="#111" stroke="#111" stroke-width="0.18" font-weight="bold">(f)</text>
</g>
<rect x="515" y="7" width="30.2" height="282" fill="#3a3a3a"/>
<rect x="516.5" y="8.3" width="27" height="279" fill="#fff"/>
<polygon points="516.5,8.3 543.5,8.3 538.8,12.6 522.3,12.6" fill="#9a9a9a"/>
<polygon points="543.5,8.3 543.5,287.3 538.8,283 538.8,12.6" fill="#8c8c8c"/>
<polygon points="516.5,287.3 543.5,287.3 538.8,283 524,283" fill="#dadada"/>
<clipPath id="cb"><rect x="517" y="13" width="22" height="240.8"/></clipPath>
<g clip-path="url(#cb)">
<text transform="translate(535.3,18.8) rotate(-90)" font-family="Liberation Serif, serif" font-size="13.75" text-anchor="end" fill="#111">Experimentally monitored PV system variables</text>
</g>
</svg>
</body></html>
